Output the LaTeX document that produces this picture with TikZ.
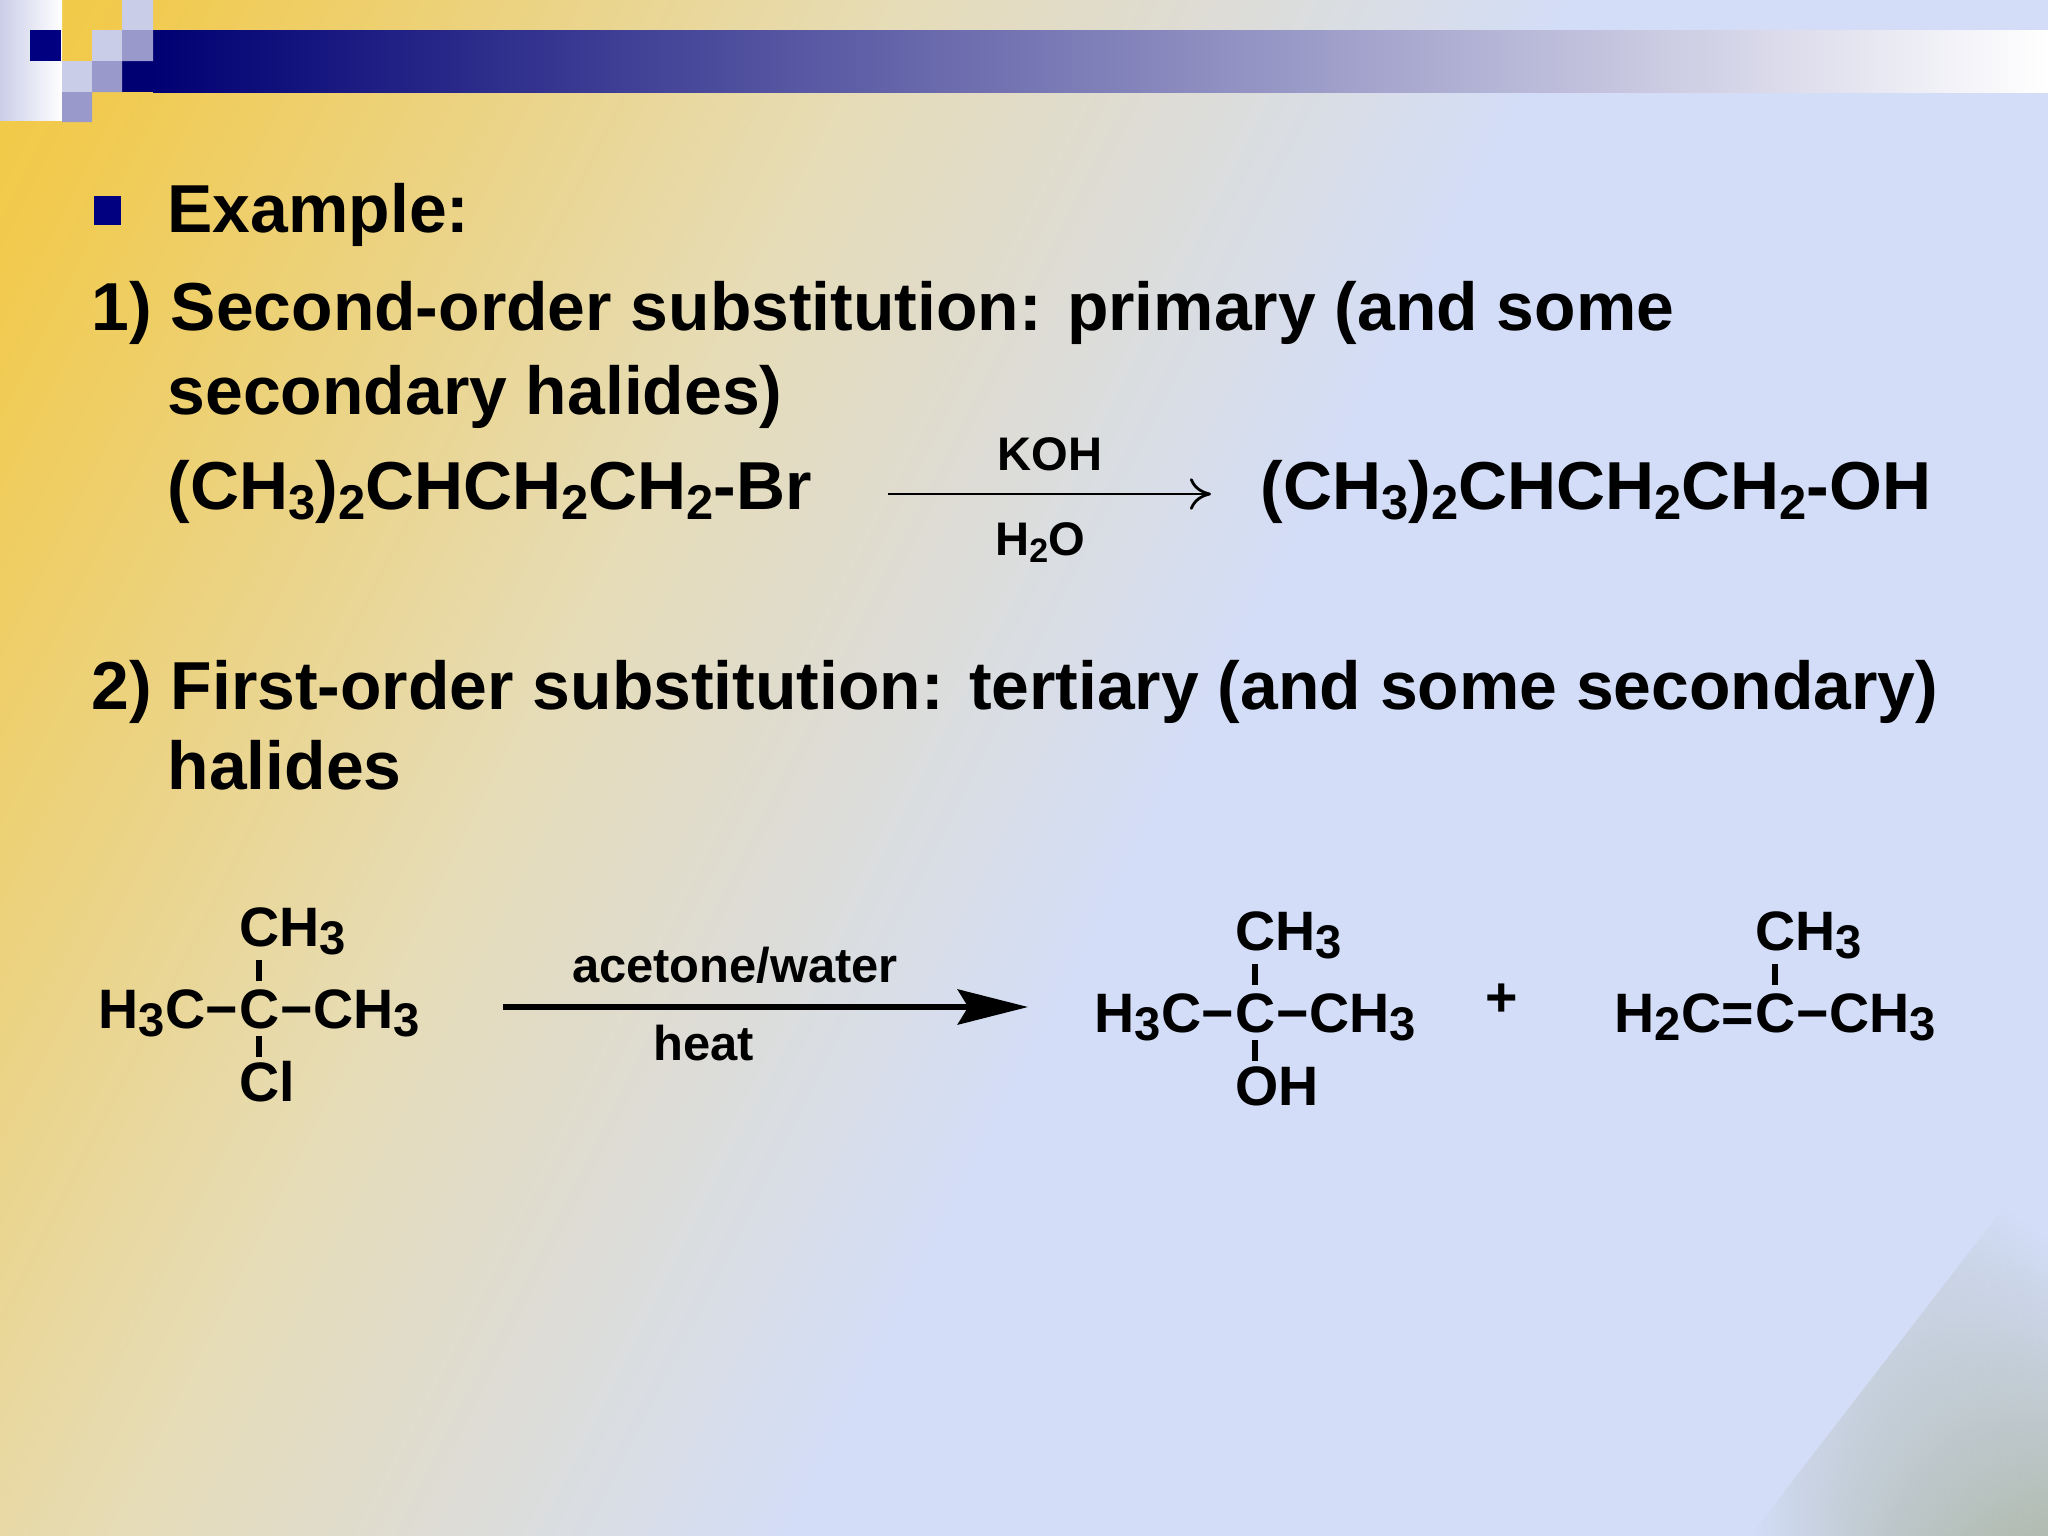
\documentclass[tikz,border=0pt]{standalone}
\usepackage{fontspec}
\setmainfont{Liberation Sans}
\usetikzlibrary{arrows.meta,fadings}
\definecolor{bgor}{HTML}{FBC417}
\definecolor{bgbl}{HTML}{D3DDF8}
\definecolor{bgmid}{HTML}{E6DCB8}
\definecolor{navy}{HTML}{000080}
\definecolor{lav}{HTML}{CACDE8}
\definecolor{mlav}{HTML}{9999CC}
\definecolor{grn}{HTML}{A4AE94}
\pgfdeclarehorizontalshading{bgsh}{100bp}{color(0bp)=(bgor); color(20bp)=(bgor!75!bgbl); color(38bp)=(bgmid); color(54bp)=(bgbl); color(100bp)=(bgbl)}
\newcommand\ssub[1]{\raisebox{-0.3ex}{\scalebox{0.72}{#1}}}
\newcommand\csub[1]{\raisebox{-0.3ex}{\scalebox{0.85}{#1}}}
\tikzset{big/.style={font=\fontsize{19.3}{22}\selectfont\bfseries,inner sep=0},
 mid/.style={font=\fontsize{15.8}{18}\selectfont\bfseries,inner sep=0},
 lab/.style={font=\fontsize{13.9}{16}\selectfont\bfseries,inner sep=0},
 sm/.style={font=\fontsize{13.4}{16}\selectfont\bfseries,inner sep=0},
 tick/.style={line width=1.6pt}}
\begin{document}
\begin{tikzpicture}[x=0.01cm,y=-0.01cm]
\useasboundingbox (0,0) rectangle (2048,1536);
\shade[shading=bgsh,shading angle=-27] (0,0) rectangle (2048,1536);
\shade[left color=bgbl,right color=grn,shading angle=-35,path fading=west] (1750,1536) -- (2048,1536) -- (2048,1150) -- cycle;
% header
\shade[left color=lav,right color=white] (0,0) rectangle (62,120);
\shade[left color=navy!90!black,right color=white] (153,30) rectangle (2048,92);
\fill[navy!90!black] (122,61) rectangle (153,92);
\fill[navy] (30,30) rectangle (61,61);
\fill[lav] (122,0) rectangle (153,30) (92,30) rectangle (122,61) (62,61) rectangle (92,92);
\fill[mlav] (122,30) rectangle (153,61) (92,61) rectangle (122,92) (62,92) rectangle (92,122);
\fill[navy] (94,196) rectangle (121,225);
\node[big,anchor=base west] (ex) at (167,232) {Example:};
\node[big,anchor=base west] (l1) at (91,330) {1) Second-order substitution: primary (and some};
\node[big,anchor=base west] (l1b) at (167,414) {secondary halides)};
\node[big,anchor=base west] (r1) at (167,509) {(CH\ssub{3})\ssub{2}CHCH\ssub{2}CH\ssub{2}-Br};
\node[big,anchor=base west] (p1) at (1260,509) {(CH\ssub{3})\ssub{2}CHCH\ssub{2}CH\ssub{2}-OH};
\coordinate (a1s) at (888,494); \coordinate (a1e) at (1211,494);
\draw[-{To[length=6pt,width=9pt]},line width=0.8pt] (a1s) -- (a1e);
\node[sm,anchor=base] (koh) at (1050,470) {KOH};
\node[sm,anchor=base] (h2o) at (1040,555) {H\ssub{2}O};
\node[big,anchor=base west] (l2) at (91,709) {2) First-order substitution: tertiary (and some secondary)};
\node[big,anchor=base west] (l2b) at (167,789) {halides};
% molecule 1
\node[mid,anchor=base west] (m1l) at (98,1028) {H\csub{3}C−};
\node[mid,anchor=base west] (m1c) at (m1l.base east) {C};
\node[mid,anchor=base west] (m1r) at (m1c.base east) {−CH\csub{3}};
\node[mid,anchor=base west] (m1t) at ([yshift=23.3pt]m1c.base west) {CH\csub{3}};
\node[mid,anchor=base west] (m1b) at ([yshift=-20.8pt]m1c.base west) {Cl};
\draw[tick] ([yshift=2pt]m1c.north) -- ([yshift=8pt]m1c.north);
\draw[tick] ([yshift=-2pt]m1c.south) -- ([yshift=-8pt]m1c.south);
% arrow 2
\coordinate (a2s) at (503,1007); \coordinate (a2e) at (1028,1007);
\draw[-{Stealth[length=20pt,width=10pt,inset=3pt]},line width=1.5pt] (a2s) -- (a2e);
\node[lab,anchor=base] (ac) at (735,982) {acetone/water};
\node[lab,anchor=base] (ht) at (704,1060) {heat};
% product 1
\node[mid,anchor=base west] (m2l) at (1094,1032) {H\csub{3}C−};
\node[mid,anchor=base west] (m2c) at (m2l.base east) {C};
\node[mid,anchor=base west] (m2r) at (m2c.base east) {−CH\csub{3}};
\node[mid,anchor=base west] (m2t) at ([yshift=23.3pt]m2c.base west) {CH\csub{3}};
\node[mid,anchor=base west] (m2b) at ([yshift=-20.8pt]m2c.base west) {OH};
\draw[tick] ([yshift=2pt]m2c.north) -- ([yshift=8pt]m2c.north);
\draw[tick] ([yshift=-2pt]m2c.south) -- ([yshift=-8pt]m2c.south);
\node[mid] (plus) at (1502,1000) {+};
% product 2
\node[mid,anchor=base west] (m3l) at (1614,1032) {H\csub{2}C=};
\node[mid,anchor=base west] (m3c) at (m3l.base east) {C};
\node[mid,anchor=base west] (m3r) at (m3c.base east) {−CH\csub{3}};
\node[mid,anchor=base west] (m3t) at ([yshift=23.3pt]m3c.base west) {CH\csub{3}};
\draw[tick] ([yshift=2pt]m3c.north) -- ([yshift=8pt]m3c.north);
\end{tikzpicture}
\end{document}
